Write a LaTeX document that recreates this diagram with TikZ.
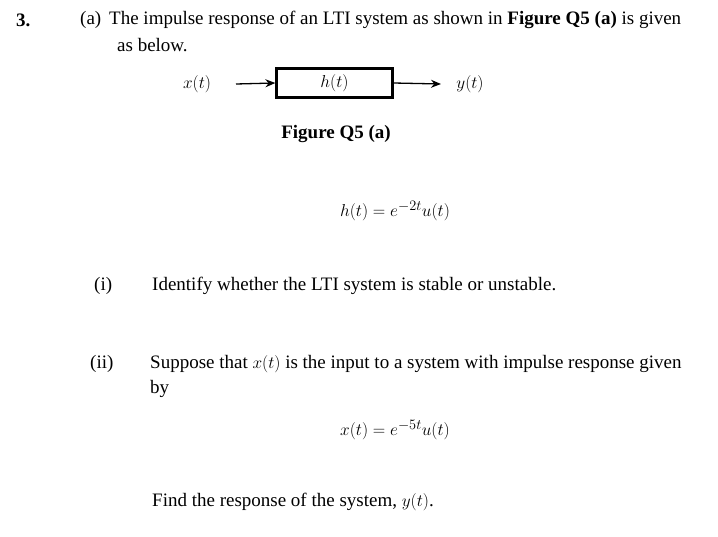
\documentclass[tikz,border=0pt]{standalone}
\usepackage{fontspec}
\setmainfont{Liberation Serif}
\usetikzlibrary{arrows.meta}
\newcommand\bodyfnt{\fontsize{19pt}{22pt}\selectfont}
\begin{document}
\begin{tikzpicture}[x=1pt,y=-1pt,
  txt/.style={anchor=west,inner sep=0pt,font=\bodyfnt},
  ctr/.style={inner sep=0pt,font=\bodyfnt},
  sig/.style={draw,line width=1.3pt,-{Stealth[length=10pt,width=8pt]}}]
\useasboundingbox (0,0) rectangle (718,537);
\node[txt] (q) at (16,20) {\textbf{3.}};
\node[txt] (a1) at (80,20) {(a)\, The impulse response of an LTI system as shown in \textbf{Figure Q5 (a)} is given};
\node[txt] (a2) at (117,45) {as below.};
\node[ctr] (x) at (197,84) {$x(t)$};
\node[draw,line width=2.2pt,minimum width=116pt,minimum height=29pt,inner sep=0pt,font=\bodyfnt] (h) at (334.5,83) {$h(t)$};
\node[ctr] (y) at (470,84) {$y(t)$};
\coordinate (xs) at (236,84);
\coordinate (ye) at (441,84);
\draw[sig] (xs) -- (h.west);
\draw[sig] (h.east) -- (ye);
\node[ctr] (cap) at (336,134) {\textbf{Figure Q5 (a)}};
\node[ctr] (eq1) at (395,211) {$h(t)=e^{-2t}u(t)$};
\node[txt] (i) at (94,286) {(i)};
\node[txt] (it) at (152,286) {Identify whether the LTI system is stable or unstable.};
\node[txt] (ii) at (90,364) {(ii)};
\node[txt] (ii1) at (150,364) {Suppose that $x(t)$ is the input to a system with impulse response given};
\node[txt] (ii2) at (150,389) {by};
\node[ctr] (eq2) at (395,430) {$x(t)=e^{-5t}u(t)$};
\node[txt] (f) at (152,502) {Find the response of the system, $y(t)$.};
\end{tikzpicture}
\end{document}
